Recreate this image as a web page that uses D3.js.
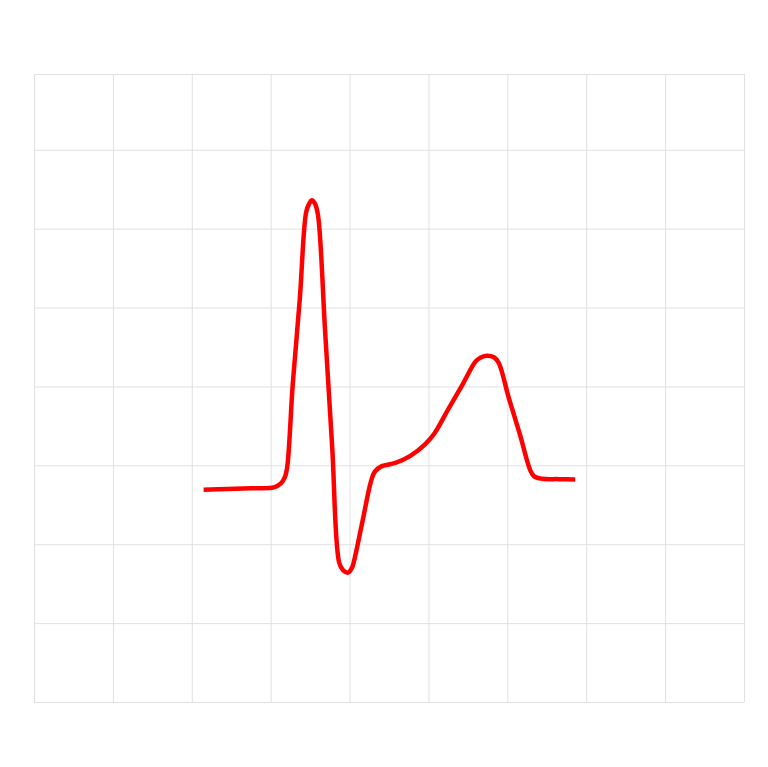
<!DOCTYPE html>
<html>
<head>
<meta charset="utf-8">
<script src="https://cdn.jsdelivr.net/npm/d3@7"></script>
<style>
  body { margin: 0; background: #fff; }
  .grid line { stroke: #e0e0e0; stroke-width: 1; }
  .grid path { display: none; }
</style>
</head>
<body>
<div class="canvas"></div>
<script>
// grid divisions
const xTicks = [0, 1, 2, 3, 4, 5, 6, 7, 8, 9];
const yTicks = [0, 1, 2, 3, 4, 5, 6, 7];

// trace, in grid units
const traceX = [2.15, 2.45, 2.75, 3.04, 3.13, 3.18, 3.21, 3.28, 3.37, 3.45, 3.49, 3.52, 3.56, 3.60,
  3.69, 3.78, 3.87, 3.92, 3.98, 4.03, 4.06, 4.165, 4.27, 4.32, 4.41, 4.58, 4.77, 4.96, 5.08,
  5.25, 5.43, 5.60, 5.67, 5.74, 5.83, 5.89, 6.02, 6.16, 6.29, 6.34, 6.44, 6.65, 6.86];
const traceY = [2.69, 2.70, 2.71, 2.72, 2.77, 2.85, 2.98, 4.03, 5.12, 6.21, 6.32, 6.36, 6.32, 6.17,
  4.70, 3.23, 1.76, 1.67, 1.64, 1.70, 1.80, 2.295, 2.79, 2.92, 2.99, 3.03, 3.12, 3.27, 3.41,
  3.71, 4.02, 4.32, 4.37, 4.39, 4.37, 4.30, 3.85, 3.39, 2.94, 2.86, 2.83, 2.825, 2.82];

const width = 768, height = 767;
const margin = {top: 74, bottom: 65, right: 24, left: 34};
const graphWidth = width - margin.left - margin.right;
const graphHeight = height - margin.top - margin.bottom;

const svg = d3.select('.canvas')
  .append('svg')
    .attr('width', width)
    .attr('height', height);

const graph = svg.append('g')
  .attr('transform', `translate(${margin.left},${margin.top})`);

const x = d3.scaleLinear()
  .domain([0, 9])
  .range([0, graphWidth]);

const y = d3.scaleLinear()
  .domain([0, graphHeight / (graphWidth / 9)])
  .range([graphHeight, 0]);

graph.append('g')
  .attr('class', 'grid')
  .attr('transform', `translate(0,${graphHeight})`)
  .call(d3.axisBottom(x).tickValues(xTicks).tickSize(-graphHeight).tickFormat(''));

graph.append('g')
  .attr('class', 'grid')
  .call(d3.axisLeft(y).tickValues(yTicks).tickSize(-graphWidth).tickFormat(''));

graph.append('line')
  .attr('x1', 0).attr('x2', graphWidth)
  .attr('y1', 0.5).attr('y2', 0.5)
  .attr('stroke', '#e0e0e0');

const data = traceX.map((d, i) => [d, traceY[i]]);

const line = d3.line()
  .x(d => x(d[0]))
  .y(d => y(d[1]))
  .curve(d3.curveCatmullRom.alpha(0.5));

graph.append('path')
  .datum(data)
  .attr('fill', 'none')
  .attr('stroke', '#ff0000')
  .attr('stroke-width', 4.5)
  .attr('stroke-linejoin', 'round')
  .attr('d', line);
</script>
</body>
</html>
